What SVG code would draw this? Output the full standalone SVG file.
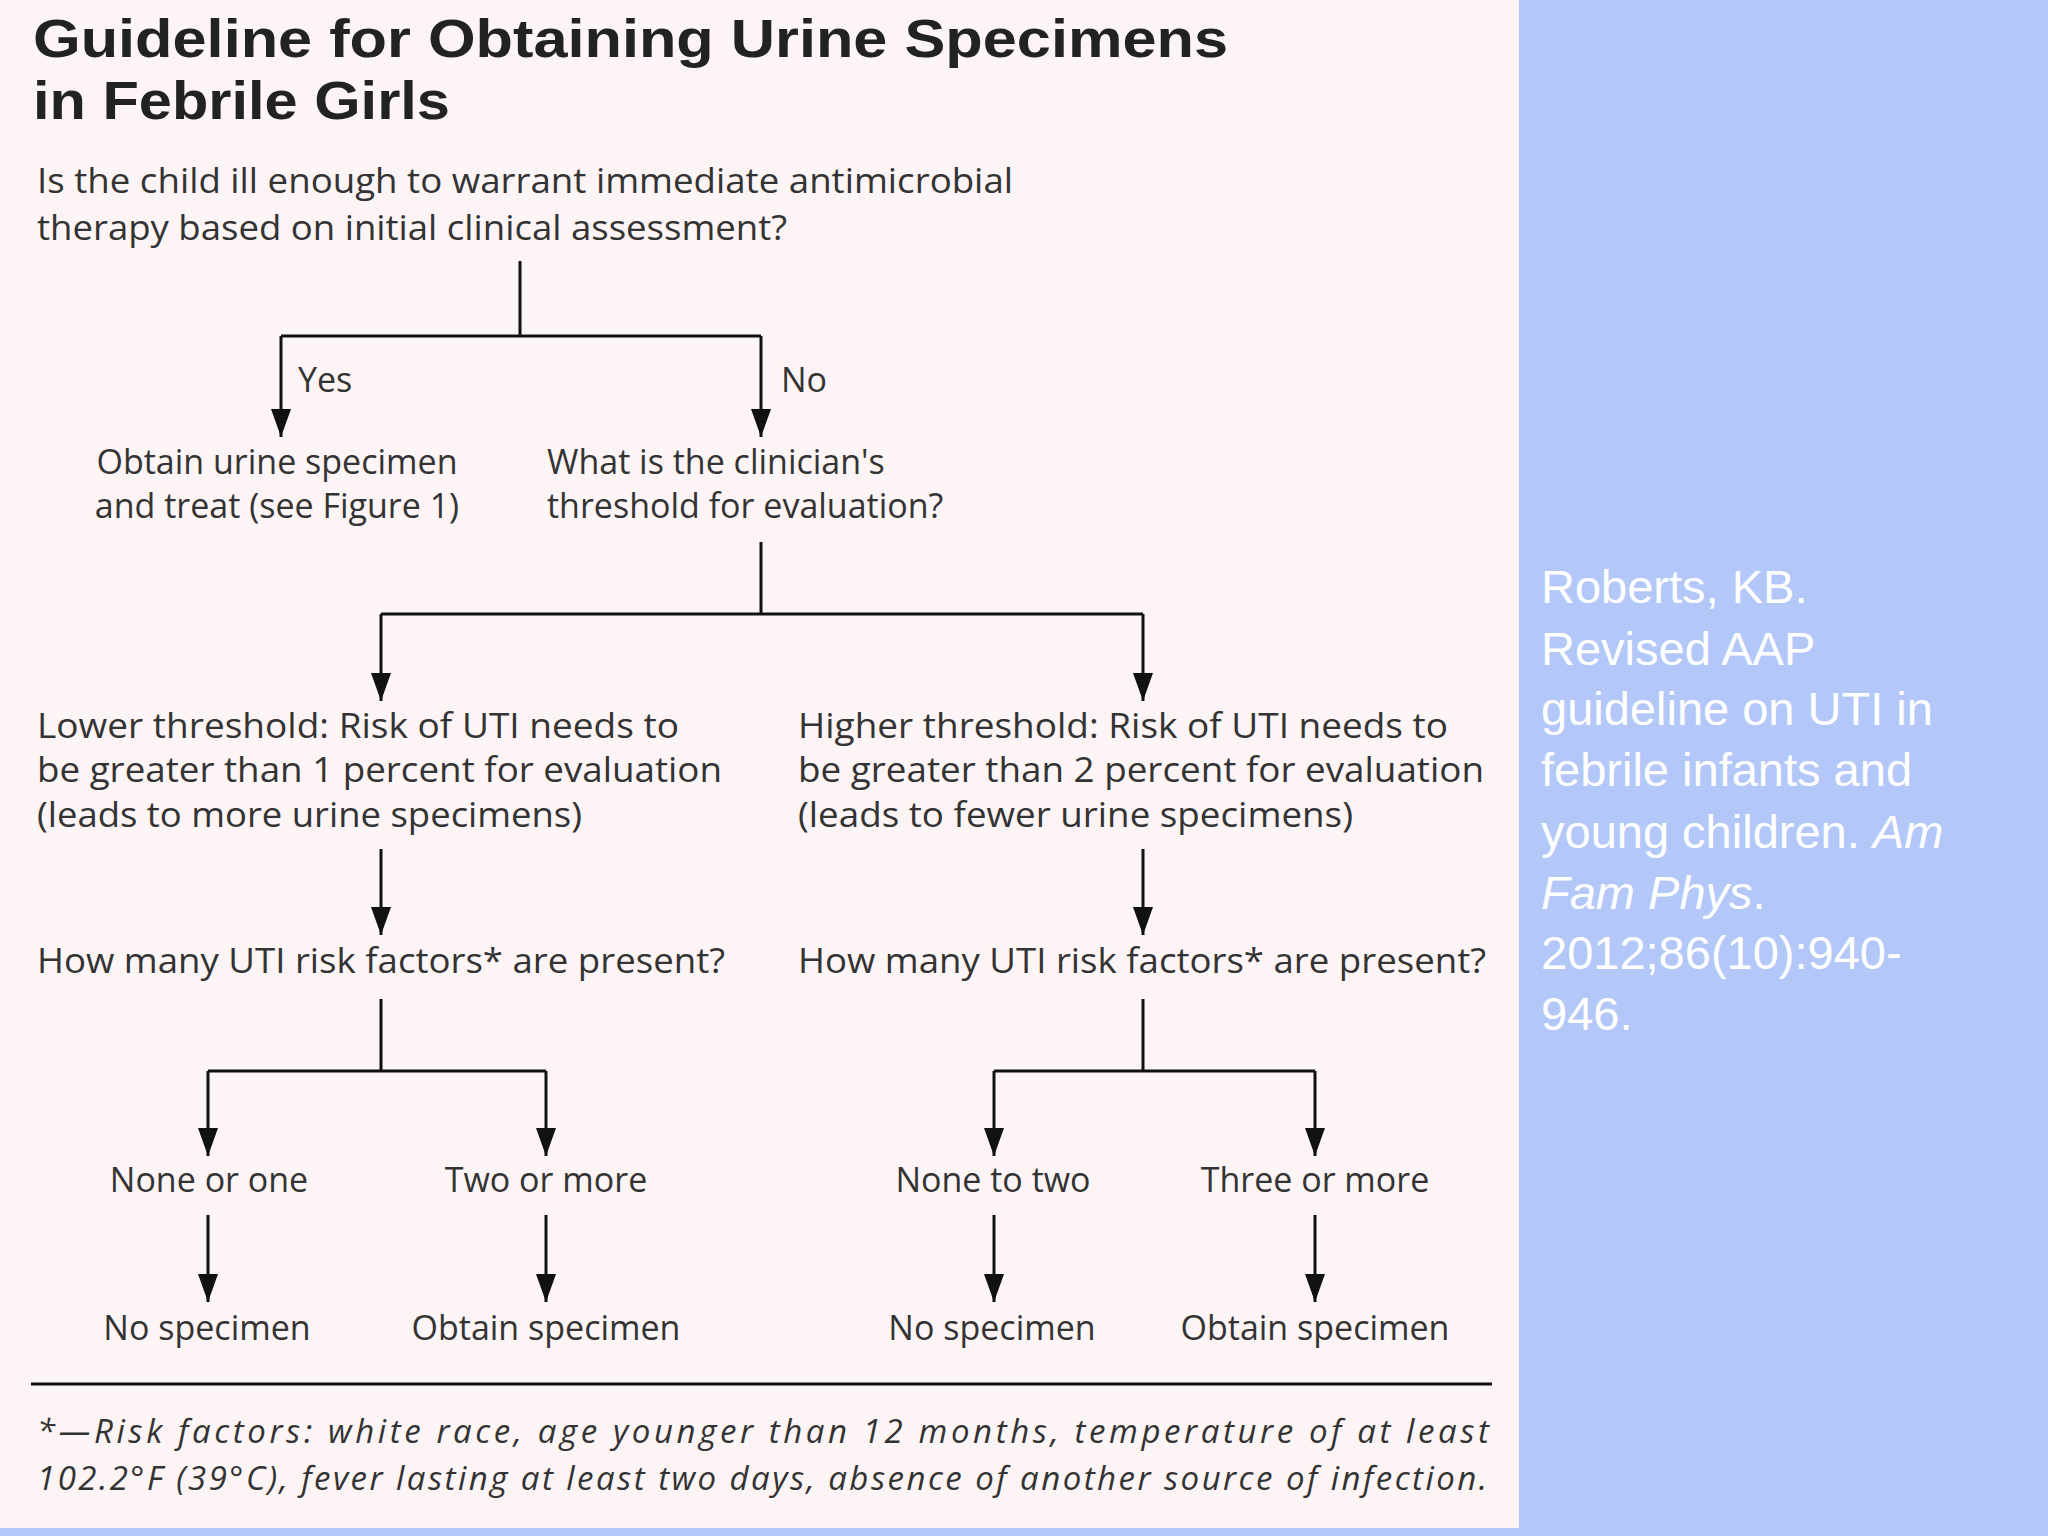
<svg xmlns="http://www.w3.org/2000/svg" width="2048" height="1536" viewBox="0 0 2048 1536">
<defs>
<marker id="ah" markerUnits="userSpaceOnUse" markerWidth="28" markerHeight="20" refX="28" refY="10" orient="auto" viewBox="0 0 28 20"><path d="M0,0 L28,10 L0,20 Z" fill="#111"/></marker>
<style>
.t{font-family:"Open Sans","Liberation Sans",sans-serif;font-size:34px;fill:#333}
.c{text-anchor:middle}
.h{font-family:"Liberation Sans",sans-serif;font-weight:bold;font-size:54px;fill:#222}
.f{font-family:"Open Sans","Liberation Sans",sans-serif;font-style:italic;font-size:33px;fill:#333}
.r{font-family:"Liberation Sans",sans-serif;font-size:47px;fill:#fff}
.l{stroke:#111;stroke-width:3;fill:none}
.a{stroke:#111;stroke-width:3;fill:none}
</style>
</defs>
<rect width="2048" height="1536" fill="#b3c8f8"/>
<rect x="0" y="0" width="1519" height="1528" fill="#fdf4f5"/>
<text class="h" x="33" y="57" textLength="1195" lengthAdjust="spacingAndGlyphs">Guideline for Obtaining Urine Specimens</text>
<text class="h" x="33" y="119" textLength="417" lengthAdjust="spacingAndGlyphs">in Febrile Girls</text>
<g id="q1"><text class="t" x="37" y="193" textLength="976" lengthAdjust="spacingAndGlyphs">Is the child ill enough to warrant immediate antimicrobial</text><text class="t" x="37" y="240" textLength="750" lengthAdjust="spacingAndGlyphs">therapy based on initial clinical assessment?</text></g>
<g id="yes"><text class="t" x="277" y="474" text-anchor="middle">Obtain urine specimen</text><text class="t" x="277" y="518" text-anchor="middle">and treat (see Figure 1)</text></g>
<g id="no"><text class="t" x="547" y="474">What is the clinician's</text><text class="t" x="547" y="518">threshold for evaluation?</text></g>
<g id="lower"><text class="t" x="37" y="738" textLength="642" lengthAdjust="spacingAndGlyphs">Lower threshold: Risk of UTI needs to</text><text class="t" x="37" y="782" textLength="685" lengthAdjust="spacingAndGlyphs">be greater than 1 percent for evaluation</text><text class="t" x="37" y="827" textLength="545" lengthAdjust="spacingAndGlyphs">(leads to more urine specimens)</text></g>
<g id="higher"><text class="t" x="798" y="738" textLength="650" lengthAdjust="spacingAndGlyphs">Higher threshold: Risk of UTI needs to</text><text class="t" x="798" y="782" textLength="686" lengthAdjust="spacingAndGlyphs">be greater than 2 percent for evaluation</text><text class="t" x="798" y="827" textLength="555" lengthAdjust="spacingAndGlyphs">(leads to fewer urine specimens)</text></g>
<g id="hm1"><text class="t" x="37" y="973" textLength="688" lengthAdjust="spacingAndGlyphs">How many UTI risk factors* are present?</text></g>
<g id="hm2"><text class="t" x="798" y="973" textLength="688" lengthAdjust="spacingAndGlyphs">How many UTI risk factors* are present?</text></g>
<g id="n1"><text class="t c" x="209" y="1192">None or one</text></g>
<g id="n2"><text class="t c" x="546" y="1192">Two or more</text></g>
<g id="n3"><text class="t c" x="993" y="1192">None to two</text></g>
<g id="n4"><text class="t c" x="1315" y="1192">Three or more</text></g>
<g id="o1"><text class="t c" x="207" y="1340">No specimen</text></g>
<g id="o2"><text class="t c" x="546" y="1340">Obtain specimen</text></g>
<g id="o3"><text class="t c" x="992" y="1340">No specimen</text></g>
<g id="o4"><text class="t c" x="1315" y="1340">Obtain specimen</text></g>
<g id="connectors">
<path class="l" d="M520,261 V336 M281,336 H761"/>
<path class="a" d="M281,336 V437" marker-end="url(#ah)"/>
<path class="a" d="M761,336 V437" marker-end="url(#ah)"/>
<text class="t" x="298" y="392">Yes</text><text class="t" x="781" y="392">No</text>
<path class="l" d="M761,542 V614 M381,614 H1143"/>
<path class="a" d="M381,614 V701" marker-end="url(#ah)"/>
<path class="a" d="M1143,614 V701" marker-end="url(#ah)"/>
<path class="a" d="M381,849 V935" marker-end="url(#ah)"/>
<path class="a" d="M1143,849 V935" marker-end="url(#ah)"/>
<path class="l" d="M381,999 V1071 M208,1071 H546 M1143,999 V1071 M994,1071 H1315"/>
<path class="a" d="M208,1071 V1156" marker-end="url(#ah)"/>
<path class="a" d="M546,1071 V1156" marker-end="url(#ah)"/>
<path class="a" d="M994,1071 V1156" marker-end="url(#ah)"/>
<path class="a" d="M1315,1071 V1156" marker-end="url(#ah)"/>
<path class="a" d="M208,1215 V1302" marker-end="url(#ah)"/>
<path class="a" d="M546,1215 V1302" marker-end="url(#ah)"/>
<path class="a" d="M994,1215 V1302" marker-end="url(#ah)"/>
<path class="a" d="M1315,1215 V1302" marker-end="url(#ah)"/>
</g>
<line x1="31" y1="1384" x2="1492" y2="1384" stroke="#111" stroke-width="3"/>
<text class="f" x="37" y="1443" textLength="1452">*—Risk factors: white race, age younger than 12 months, temperature of at least</text>
<text class="f" x="37" y="1490" textLength="1450">102.2°F (39°C), fever lasting at least two days, absence of another source of infection.</text>
<g id="ref">
<text class="r" x="1541" y="603">Roberts, KB.</text>
<text class="r" x="1541" y="665">Revised AAP</text>
<text class="r" x="1541" y="725">guideline on UTI in</text>
<text class="r" x="1541" y="786">febrile infants and</text>
<text class="r" x="1541" y="848">young children. <tspan font-style="italic">Am</tspan></text>
<text class="r" x="1541" y="909"><tspan font-style="italic">Fam Phys</tspan>.</text>
<text class="r" x="1541" y="969">2012;86(10):940-</text>
<text class="r" x="1541" y="1030">946.</text>
</g>
</svg>
